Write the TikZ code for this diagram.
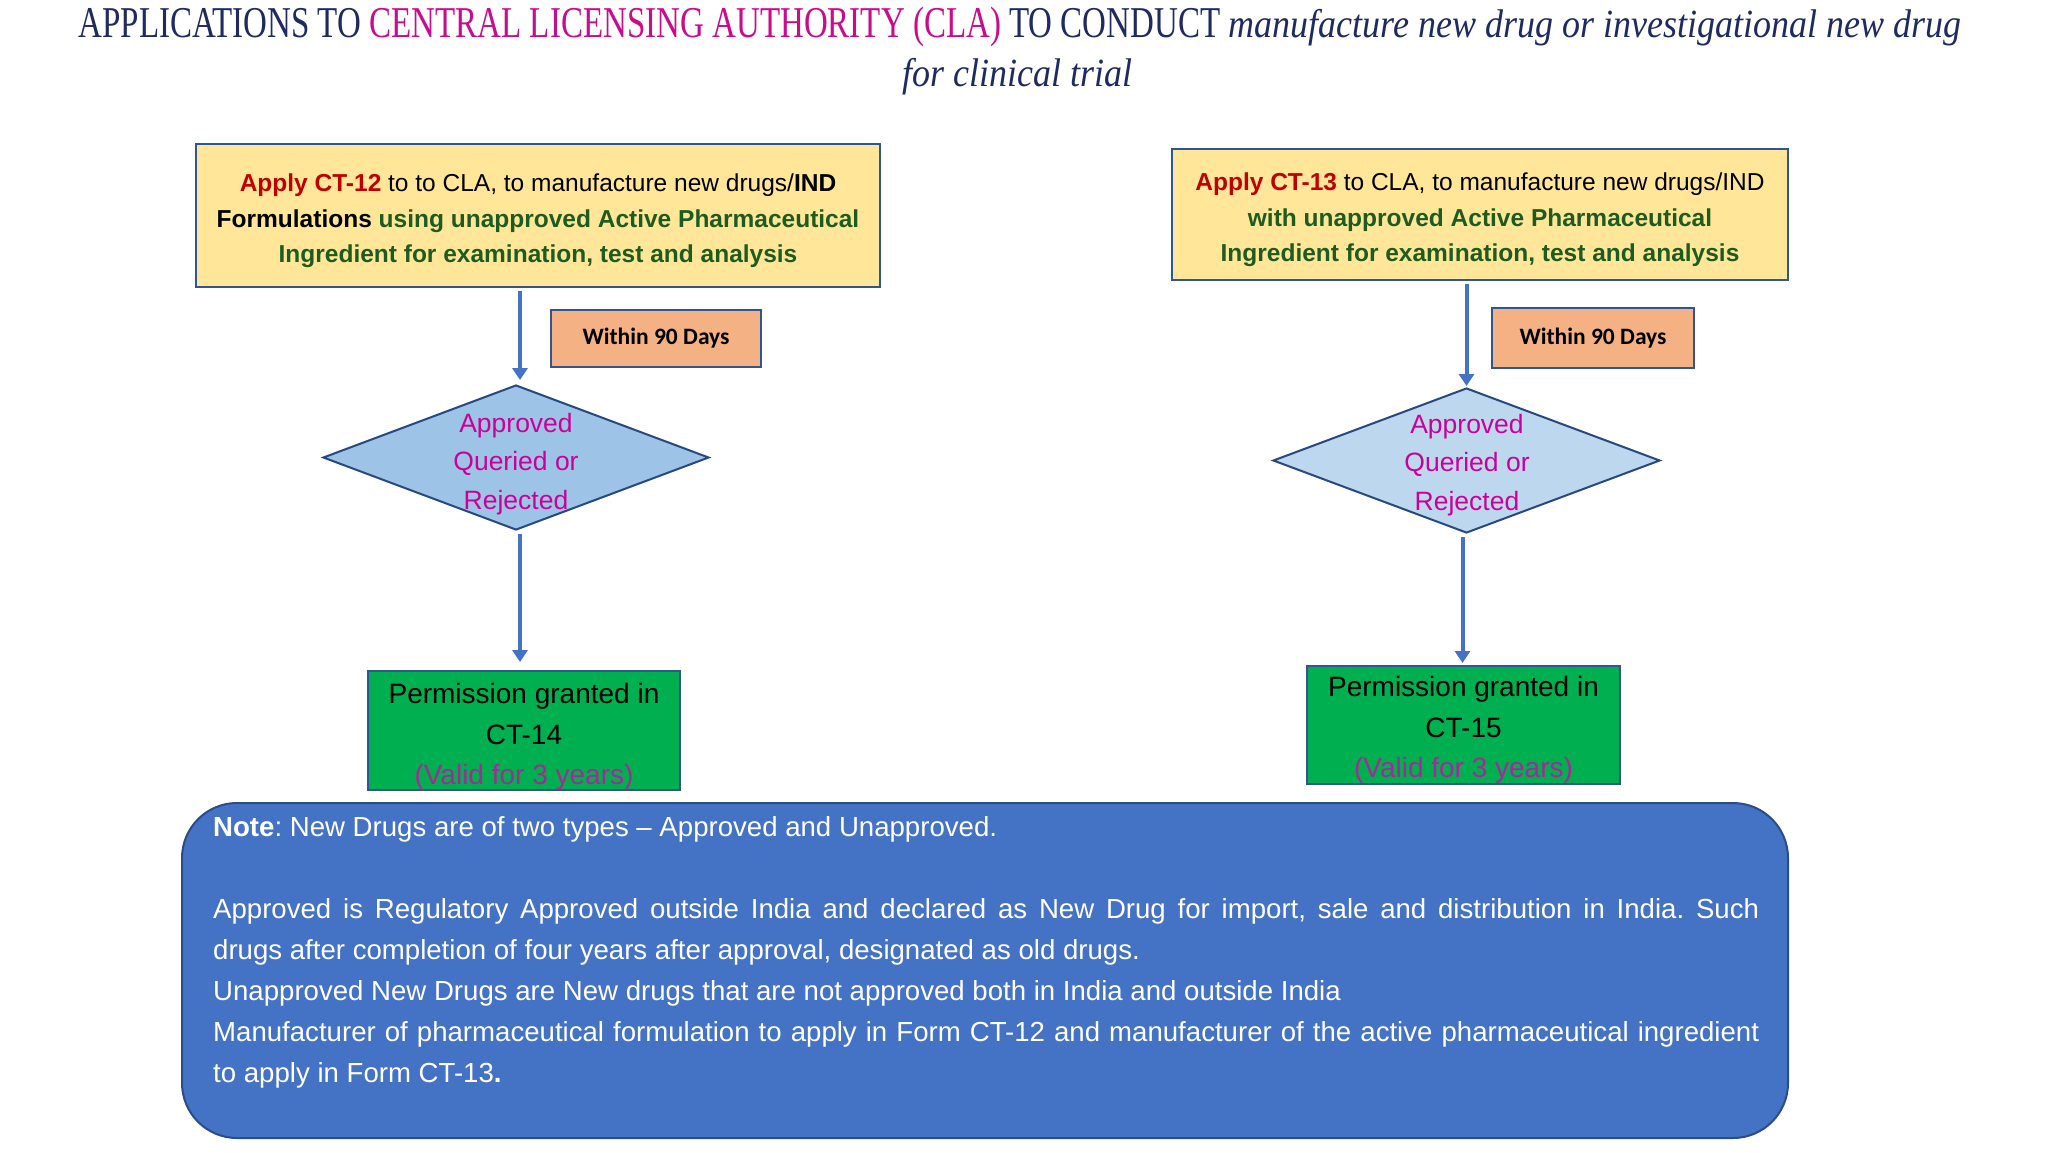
\documentclass[tikz,border=0pt]{standalone}
\usepackage{fontspec}
\setmainfont{Liberation Sans}
\newfontfamily\titlecaps[FakeStretch=0.75]{Liberation Serif}
\newfontfamily\titleital[FakeStretch=0.9]{Liberation Serif}
\newfontfamily\calibfont{Carlito}
\usetikzlibrary{shapes.geometric,arrows.meta}
\frenchspacing
\definecolor{navy}{HTML}{1F2A60}
\definecolor{pinkt}{HTML}{CC0A8C}
\definecolor{redt}{HTML}{C00000}
\definecolor{dkgreen}{HTML}{1E5B1E}
\definecolor{magt}{HTML}{CC0099}
\definecolor{validt}{HTML}{A8289A}
\definecolor{bordc}{HTML}{2F5597}
\definecolor{yellowf}{HTML}{FFE699}
\definecolor{orangef}{HTML}{F4B183}
\definecolor{dia1f}{HTML}{9DC3E6}
\definecolor{dia2f}{HTML}{BDD7EE}
\definecolor{greenf}{HTML}{00B050}
\definecolor{notef}{HTML}{4472C4}
\definecolor{arrc}{HTML}{4472C4}
\begin{document}
\begin{tikzpicture}[x=1pt,y=-1pt,
  ybox/.style={draw=bordc,line width=2pt,fill=yellowf,inner sep=0pt},
  ytext/.style={align=center,inner sep=0pt,font=\fontsize{24.5}{35.6}\selectfont},
  daysbox/.style={draw=bordc,line width=2pt,fill=orangef,inner sep=0pt,
    font=\calibfont\bfseries\fontsize{23.5}{28}\selectfont},
  diabox/.style={diamond,draw=bordc!85!black,line width=2pt,inner sep=0pt},
  diatext/.style={align=center,text=magt,inner sep=0pt,font=\fontsize{26.5}{38.5}\selectfont},
  gbox/.style={draw=bordc,line width=2pt,fill=greenf,inner sep=0pt},
  gtext/.style={align=center,inner sep=0pt,font=\fontsize{28}{40.5}\selectfont},
  arr/.style={draw=arrc,line width=4pt,-{Triangle[width=15pt,length=12pt]}}
]
\useasboundingbox (0,0) rectangle (2048,1152);
\fill[white] (0,0) rectangle (2048,1152);

% title
\node[anchor=base,inner sep=0pt,text=navy] (title1) at (1020,37)
  {\titlecaps\fontsize{44}{50}\selectfont APPLICATIONS TO {\color{pinkt}CENTRAL LICENSING AUTHORITY (CLA)} TO CONDUCT {\titleital\itshape\fontsize{40}{50}\selectfont manufacture new drug or investigational new drug}};
\node[anchor=base,inner sep=0pt,text=navy] (title2) at (1017,86)
  {\titleital\itshape\fontsize{40}{50}\selectfont for clinical trial};

% left column
\node[ybox,minimum width=684pt,minimum height=143pt] (box1) at (538,215.5) {};
\node[ytext] (btext1) at (538,221)
  {{\color{redt}\bfseries Apply CT-12} to to CLA, to manufacture new drugs/{\bfseries IND}\\
   {\bfseries Formulations} {\color{dkgreen}\bfseries using unapproved Active Pharmaceutical}\\
   {\color{dkgreen}\bfseries Ingredient for examination, test and analysis}};
\node[daysbox,minimum width=210pt,minimum height=57pt] (days1) at (656,338.5) {Within 90 Days};
\node[diabox,fill=dia1f,minimum width=386pt,minimum height=145pt] (dia1) at (516,457.5) {};
\node[diatext] (dtext1) at (516,464) {Approved\\Queried or\\Rejected};
\node[gbox,minimum width=312pt,minimum height=119pt] (green1) at (524,730.5) {};
\node[gtext] (gtext1) at (524,737)
  {Permission granted in\\CT-14\\{\color{validt}(Valid for 3 years)}};

% right column
\node[ybox,minimum width=616pt,minimum height=131pt] (box2) at (1480,214.5) {};
\node[ytext] (btext2) at (1480,220)
  {{\color{redt}\bfseries Apply CT-13} to CLA, to manufacture new drugs/IND\\
   {\color{dkgreen}\bfseries with unapproved Active Pharmaceutical}\\
   {\color{dkgreen}\bfseries Ingredient for examination, test and analysis}};
\node[daysbox,minimum width=202pt,minimum height=60pt] (days2) at (1593,338) {Within 90 Days};
\node[diabox,fill=dia2f,minimum width=387pt,minimum height=145pt] (dia2) at (1466.5,460.5) {};
\node[diatext] (dtext2) at (1467,465) {Approved\\Queried or\\Rejected};
\node[gbox,minimum width=313pt,minimum height=118pt] (green2) at (1463.5,725) {};
\node[gtext] (gtext2) at (1463.5,730)
  {Permission granted in\\CT-15\\{\color{validt}(Valid for 3 years)}};

% arrows
\draw[arr] ([xshift=4pt,yshift=-3pt]box1.south -| dia1.north) -- ([xshift=4pt,yshift=4pt]dia1.north);
\draw[arr] ([xshift=4pt,yshift=-3pt]dia1.south) -- ([xshift=4pt,yshift=8pt]green1.north -| dia1.south);
\draw[arr] ([yshift=-3pt]box2.south -| dia2.north) -- ([yshift=1pt]dia2.north);
\draw[arr] ([xshift=-4pt,yshift=-3pt]dia2.south) -- ([xshift=-4pt,yshift=2pt]green2.north -| dia2.south);

% note
\node[draw=bordc!90!black,line width=2pt,fill=notef,rounded corners=55pt,
  minimum width=1606pt,minimum height=335pt,inner sep=0pt] (note) at (985,970.5) {};
\node[anchor=base west,inner sep=0pt,text=white,text width=1546pt,align=justify,
  font=\fontsize{27.6}{41}\selectfont] (notetext) at (213,836)
  {\textbf{Note}: New Drugs are of two types – Approved and Unapproved.\\
   \mbox{}\\
   Approved is Regulatory Approved outside India and declared as New Drug for import, sale and distribution in India. Such\linebreak
   drugs after completion of four years after approval, designated as old drugs.\\
   Unapproved New Drugs are New drugs that are not approved both in India and outside India\\
   Manufacturer of pharmaceutical formulation to apply in Form CT-12 and manufacturer of the active pharmaceutical ingredient\linebreak
   to apply in Form CT-13\textbf{.}};
\end{tikzpicture}
\end{document}
